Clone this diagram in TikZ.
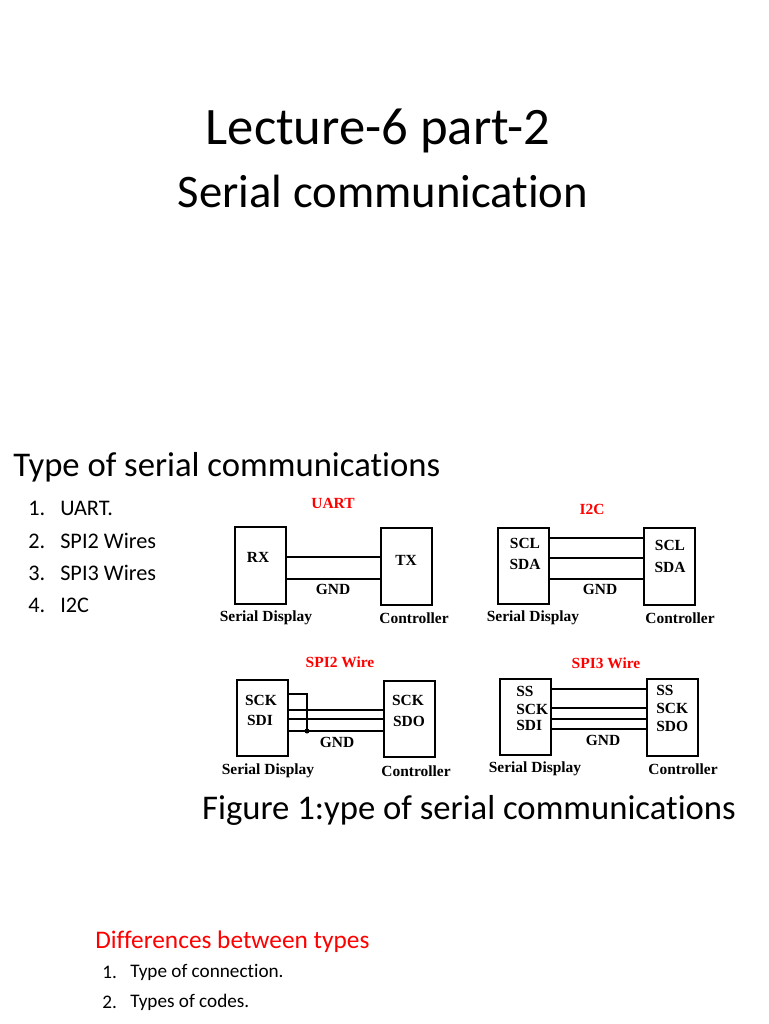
\documentclass[tikz,border=0pt]{standalone}
\usepackage{fontspec}
\setmainfont{Carlito}[Ligatures=NoCommon]
\newfontfamily\tms{Liberation Serif}
\begin{document}
\begin{tikzpicture}[x=0.75pt,y=-0.75pt,
  lbl/.style={font=\tms\bfseries\fontsize{11.6}{13}\selectfont, inner sep=0pt},
  ttl/.style={font=\tms\bfseries\fontsize{11.6}{13}\selectfont, text=red, inner sep=0pt},
  wire/.style={line width=0.8pt},
  dev/.style={draw, line width=0.8pt}]
\useasboundingbox (0,0) rectangle (768,1024);
\node[font=\fontsize{39.5}{44}\selectfont] (t1) at (378,131) {Lecture-6 part-2};
\node[font=\fontsize{35}{40}\selectfont] (t2) at (383,191) {Serial communication};
\node[font=\fontsize{26}{30}\selectfont, anchor=west, inner sep=0pt] (t3) at (13,467) {Type of serial communications};
\foreach \i/\t [count=\k] in {508/UART., 541/SPI2 Wires, 573/SPI3 Wires, 605/I2C}{
  \node[font=\fontsize{16.7}{18}\selectfont, anchor=west, inner sep=0pt] (n\k) at (28,\i) {\k.};
  \node[font=\fontsize{16.7}{18}\selectfont, anchor=west, inner sep=0pt] (l\k) at (60,\i) {\t};
}
% UART
\node[ttl] (u) at (333,503) {UART};
\draw[dev] (235,527) rectangle (286,604);
\draw[dev] (381,528) rectangle (432,605);
\draw[wire] (286,557) -- (381,557) (286,579) -- (381,579);
\node[lbl] (u1) at (258,557) {RX};
\node[lbl] (u2) at (406,560) {TX};
\node[lbl] (u3) at (333,589) {GND};
\node[lbl] (u4) at (266,618) {Serial Display};
\node[lbl] (u5) at (414,618) {Controller};
% I2C
\node[ttl] (i) at (592,509) {I2C};
\draw[dev] (498,528) rectangle (549,604);
\draw[dev] (644,528) rectangle (695,605);
\draw[wire] (549,538) -- (644,538) (549,558) -- (644,558) (549,579) -- (644,579);
\node[lbl] (i1) at (525,543) {SCL};
\node[lbl] (i2) at (525,564) {SDA};
\node[lbl] (i3) at (670,545) {SCL};
\node[lbl] (i4) at (670,567) {SDA};
\node[lbl] (i5) at (600,589) {GND};
\node[lbl] (i6) at (533,618) {Serial Display};
\node[lbl] (i7) at (680,618) {Controller};
% SPI2
\node[ttl] (s) at (340,662) {SPI2 Wire};
\draw[dev] (237,680) rectangle (288,756);
\draw[dev] (384,681) rectangle (435,757);
\draw[wire] (288,694) -- (307,694) -- (307,731);
\draw[wire] (288,710) -- (384,710) (288,719) -- (384,719) (288,731) -- (384,731);
\fill (307,731) circle (2.5);
\node[lbl] (s1) at (261,700) {SCK};
\node[lbl] (s2) at (260,720) {SDI};
\node[lbl] (s3) at (408,700) {SCK};
\node[lbl] (s4) at (409,721) {SDO};
\node[lbl] (s5) at (337,742) {GND};
\node[lbl] (s6) at (268,771) {Serial Display};
\node[lbl] (s7) at (416,771) {Controller};
% SPI3
\node[ttl] (p) at (606,663) {SPI3 Wire};
\draw[dev] (500,679) rectangle (551,755);
\draw[dev] (647,679) rectangle (698,756);
\draw[wire] (551,689) -- (647,689) (551,708) -- (647,708) (551,719) -- (647,719) (551,729) -- (647,729);
\node[lbl, anchor=west] (p1) at (516,691) {SS};
\node[lbl, anchor=west] (p2) at (516,709) {SCK};
\node[lbl, anchor=west] (p3) at (516,725) {SDI};
\node[lbl, anchor=west] (p4) at (656,690) {SS};
\node[lbl, anchor=west] (p5) at (656,708) {SCK};
\node[lbl, anchor=west] (p6) at (656,726) {SDO};
\node[lbl] (p7) at (603,740) {GND};
\node[lbl] (p8) at (535,769) {Serial Display};
\node[lbl] (p9) at (683,769) {Controller};
\node[font=\fontsize{26}{30}\selectfont] (cap) at (469,810) {Figure 1:ype of serial communications};
\node[font=\fontsize{19}{22}\selectfont, text=red, anchor=west, inner sep=0pt] (d) at (95,942) {Differences between types};
\node[font=\fontsize{14.4}{16}\selectfont, anchor=west, inner sep=0pt] (d1) at (102,972) {1.};
\node[font=\fontsize{14.4}{16}\selectfont, anchor=west, inner sep=0pt] (d1t) at (130,972) {Type of connection.};
\node[font=\fontsize{14.4}{16}\selectfont, anchor=west, inner sep=0pt] (d2) at (102,1002) {2.};
\node[font=\fontsize{14.4}{16}\selectfont, anchor=west, inner sep=0pt] (d2t) at (130,1002) {Types of codes.};
\end{tikzpicture}
\end{document}
